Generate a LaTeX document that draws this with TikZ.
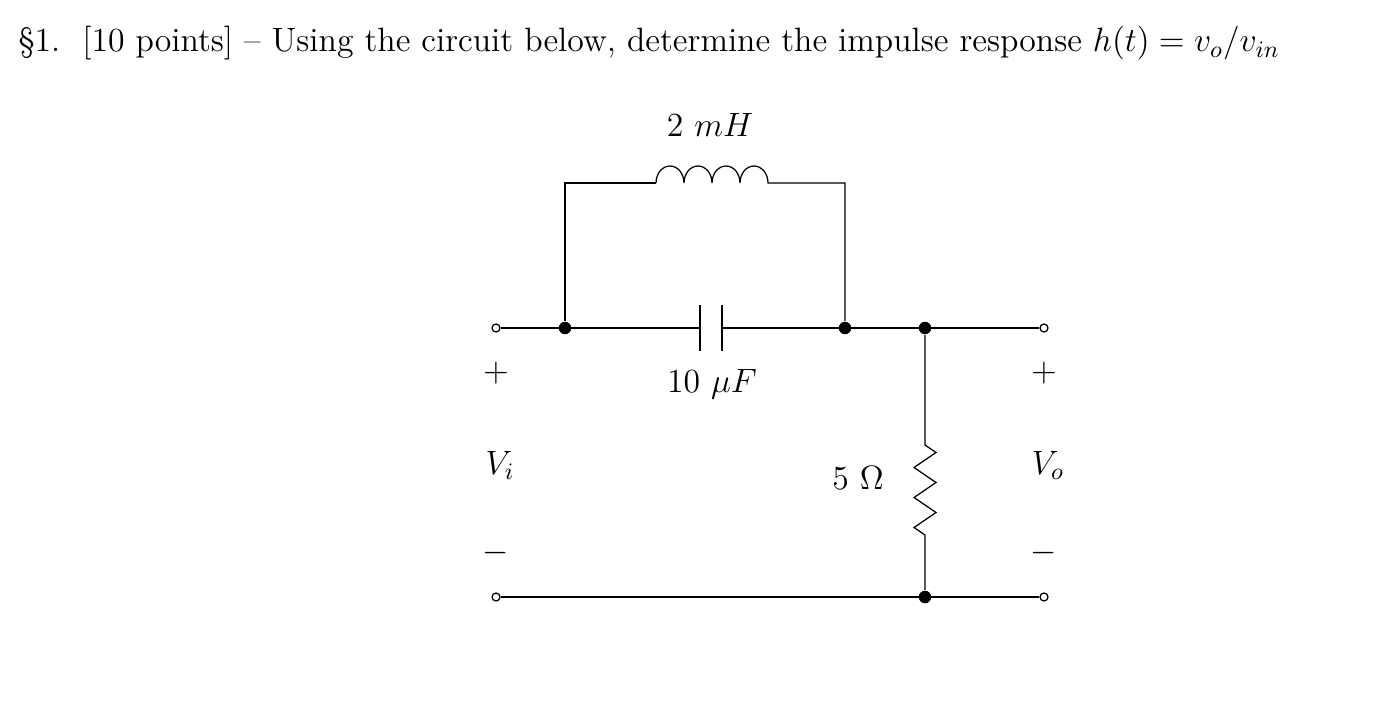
\documentclass[tikz,border=0pt]{standalone}
\usepackage{amsmath}
\usepackage{fix-cm}
\begin{document}
\begin{tikzpicture}[x=0.4pt,y=-0.4pt,line width=0.5pt,
  dot/.style={circle,fill=black,inner sep=0pt,minimum size=5pt},
  term/.style={circle,draw,fill=white,inner sep=0pt,minimum size=3.2pt},
  lbl/.style={inner sep=0pt,font=\fontsize{13.5}{16}\selectfont}]
\useasboundingbox (0,0) rectangle (1377,706);
\node[lbl,anchor=base west] (title) at (18,52) {\S1.~~[10 points] -- Using the circuit below, determine the impulse response $h(t)=v_o/v_{in}$};
\coordinate (LT) at (565,183); \coordinate (RT) at (845,183);
\coordinate (L1) at (656,183);
\node[term] (a) at (496,328) {};
\node[dot] (b) at (565,328) {};
\node[dot] (c) at (845,328) {};
\node[dot] (d) at (925,328) {};
\node[term] (e) at (1044,328) {};
\node[term] (f) at (496,597) {};
\node[dot] (g) at (925,597) {};
\node[term] (h) at (1044,597) {};
\coordinate (C1) at (700,328); \coordinate (C2) at (722,328);
\coordinate (R1) at (925,445); \coordinate (R2) at (925,535);
\draw (b) -- (LT) -- (L1);
\draw (L1) arc[start angle=180,end angle=360,x radius=14,y radius=17]
  arc[start angle=180,end angle=360,x radius=14,y radius=17]
  arc[start angle=180,end angle=360,x radius=14,y radius=17]
  arc[start angle=180,end angle=360,x radius=14,y radius=17] -- (RT) -- (c);
\draw (a) -- (C1); \draw (C2) -- (e);
\draw (700,305) -- (700,351); \draw (722,305) -- (722,351);
\draw (d) -- (R1) -- ++(11,7.5) -- ++(-22,15) -- ++(22,15) -- ++(-22,15) -- ++(22,15) -- ++(-22,15) -- (R2) -- (g);
\draw (f) -- (h);
\node[lbl] (lL) at (710,125) {$2\ mH$};
\node[lbl] (lC) at (712,384) {$10\ \mu F$};
\node[lbl] (lR) at (858,478) {$5\ \Omega$};
\node[lbl] (p1) at (496,373) {$+$};
\node[lbl] (v1) at (500,465) {$V_i$};
\node[lbl] (m1) at (496,553) {$-$};
\node[lbl] (p2) at (1044,373) {$+$};
\node[lbl] (v2) at (1048,465) {$V_o$};
\node[lbl] (m2) at (1044,553) {$-$};
\end{tikzpicture}
\end{document}
